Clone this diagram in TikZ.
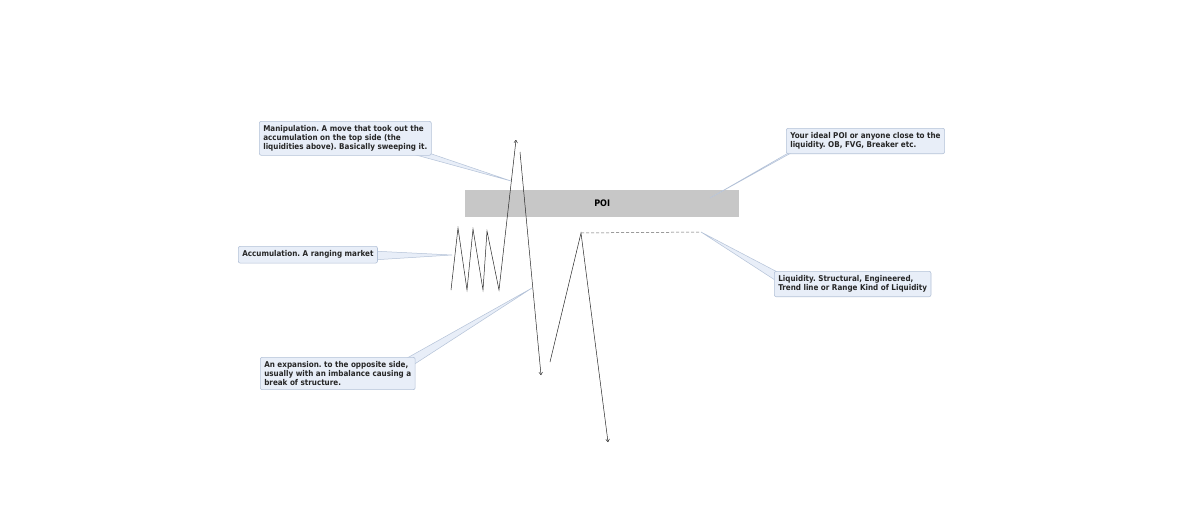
\documentclass[tikz,border=0pt]{standalone}
\usepackage{fontspec}
\setmainfont{DejaVu Sans Condensed}
\usetikzlibrary{arrows.meta}
\definecolor{cfill}{HTML}{E8EEF8}
\definecolor{cline}{HTML}{B4C2D8}
\tikzset{
 callout/.style={draw=cline,fill=cfill,rounded corners=2pt,line width=0.6pt,inner xsep=4pt,inner ysep=4.5pt,anchor=north west,align=left,font=\frenchspacing\bfseries\fontsize{8}{8.6}\selectfont,text=black!85},
 wedge/.style={draw=cline,fill=cfill,line width=0.5pt},
 price/.style={line width=0.5pt,black!85},
 arr/.style={price,-{To[length=3pt,width=4pt]}}
}
\begin{document}
\begin{tikzpicture}[x=1pt,y=-1pt]
\useasboundingbox[fill=white] (0,0) rectangle (1200,527);
% POI
\node[fill=black!22,minimum width=274pt,minimum height=27pt,inner sep=0,anchor=north west,font=\bfseries\fontsize{9}{10}\selectfont] (poi) at (465,190) {POI};
% wedges
\coordinate (pm) at (511,181);
\coordinate (pp) at (710,198);
\coordinate (pa) at (452,255);
\coordinate (pl) at (701,232);
\coordinate (pe) at (532,288);
\fill[wedge] (420,150) -- (pm) -- (405,152) -- cycle;
\fill[wedge] (800,148) -- (pp) -- (790,152) -- cycle;
\fill[wedge] (372,251) -- (pa) -- (372,260) -- cycle;
\fill[wedge] (785,276) -- (pl) -- (778,282) -- cycle;
\fill[wedge] (400,362) -- (pe) -- (410,367) -- cycle;
% callouts
\node[callout] (m) at (259,121) {Manipulation. A move that took out the\\accumulation on the top side (the\\liquidities above). Basically sweeping it.};
\node[callout] (y) at (786,128) {Your ideal POI or anyone close to the\\liquidity. OB, FVG, Breaker etc.};
\node[callout] (a) at (238,246) {Accumulation. A ranging market};
\node[callout] (l) at (774,271) {Liquidity. Structural, Engineered,\\Trend line or Range Kind of Liquidity};
\node[callout] (e) at (260,357) {An expansion. to the opposite side,\\usually with an imbalance causing a\\break of structure.};
% price path
\coordinate (s0) at (451,290);
\coordinate (top) at (516,140);
\draw[arr] (s0) -- (458,228) -- (467,290) -- (473,229) -- (483,290) -- (487,231) -- (499,290) -- (top);
\coordinate (d0) at (520,152);
\coordinate (d1) at (541,375);
\draw[arr] (d0) -- (d1);
\coordinate (r0) at (550,362);
\coordinate (rp) at (581,233);
\coordinate (r1) at (608,442);
\draw[arr] (r0) -- (rp) -- (r1);
\draw[dashed,black!60,line width=0.5pt,dash pattern=on 3pt off 2pt] (rp) -- (pl);
\end{tikzpicture}
\end{document}
